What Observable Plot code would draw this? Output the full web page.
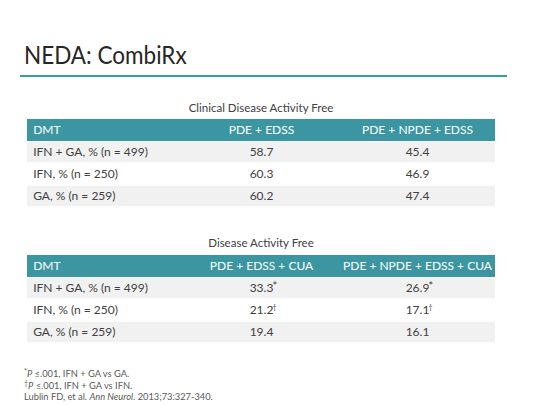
<!DOCTYPE html>
<html><head><meta charset="utf-8">
<script src="https://cdn.jsdelivr.net/npm/d3@7"></script>
<script src="https://cdn.jsdelivr.net/npm/@observablehq/plot@0.6"></script>
<style>
body{margin:0;width:540px;height:405px;overflow:hidden;background:#fff;font-family:Lato,"Open Sans",sans-serif;color:#404040;position:relative}
#title{position:absolute;left:24px;top:39px;font-size:25px;line-height:30px;color:#262626;transform:scaleX(0.9);transform-origin:left top}
#rule{position:absolute;left:20px;top:75px;width:487px;height:1.5px;background:#3a9aa6}
.tt{position:absolute;left:26px;width:470px;text-align:center;font-size:11.5px;line-height:14px;color:#404040}
.tbl{position:absolute;left:0}
#notes{position:absolute;left:24px;top:368px;font-size:9.3px;line-height:11.6px;color:#595959}
sup{font-size:7px;vertical-align:3px;line-height:0}
</style></head>
<body>
<div id="title">NEDA: CombiRx</div>
<div id="rule"></div>
<div class="tt" style="top:101px">Clinical Disease Activity Free</div>
<div class="tbl" id="t1" style="top:119px"></div>
<div class="tt" style="top:236px">Disease Activity Free</div>
<div class="tbl" id="t2" style="top:255px"></div>
<div id="notes">
<div><sup>*</sup><i>P</i> ≤.001, IFN + GA vs GA.</div>
<div><sup>†</sup><i>P</i> ≤.001, IFN + GA vs IFN.</div>
<div>Lublin FD, et al. <i>Ann Neurol</i>. 2013;73:327-340.</div>
</div>
<script>
const dmt = ["IFN + GA, % (n = 499)", "IFN, % (n = 250)", "GA, % (n = 259)"];
const clinicalCols = ["DMT", "PDE + EDSS", "PDE + NPDE + EDSS"];
const clinicalPdeEdss = [58.7, 60.3, 60.2];
const clinicalPdeNpdeEdss = [45.4, 46.9, 47.4];
const clinicalMarksA = ["", "", ""];
const clinicalMarksB = ["", "", ""];
const activityCols = ["DMT", "PDE + EDSS + CUA", "PDE + NPDE + EDSS + CUA"];
const activityPdeEdssCua = [33.3, 21.2, 19.4];
const activityPdeNpdeEdssCua = [26.9, 17.1, 16.1];
const activityMarksA = ["*", "†", ""];
const activityMarksB = ["*", "†", ""];

function table(cols, valsA, valsB, marksA, marksB) {
  const rows = ["header", ...dmt];
  const cells = [];
  rows.forEach((r, i) => cols.forEach(c => cells.push({row: r, col: c, i})));
  const header = cols.map(c => ({row: "header", col: c, label: c}));
  const body = [];
  dmt.forEach((d, i) => {
    body.push({row: d, col: cols[0], label: d, mark: ""});
    body.push({row: d, col: cols[1], label: valsA[i].toFixed(1), mark: marksA[i]});
    body.push({row: d, col: cols[2], label: valsB[i].toFixed(1), mark: marksB[i]});
  });
  const first = d => d.col === cols[0];
  const notFirst = d => d.col !== cols[0];
  const dxFirst = -470 / 3 / 2 + 6;
  return Plot.plot({
    width: 540, height: 88,
    marginTop: 0, marginBottom: 0, marginLeft: 26, marginRight: 44,
    x: {type: "band", domain: cols, padding: 0, axis: null},
    y: {type: "band", domain: rows, padding: 0, axis: null},
    style: {fontFamily: "Lato, 'Open Sans', sans-serif", background: "transparent"},
    marks: [
      Plot.cell(cells.filter(d => d.i === 0), {x: "col", y: "row", fill: "#3b96a2", inset: 0}),
      Plot.cell(cells.filter(d => d.i % 2 === 1), {x: "col", y: "row", fill: "#f1f1f1", insetLeft: 0, insetRight: 0, insetTop: 0.75, insetBottom: 0.75}),
      Plot.text(header.filter(first), {x: "col", y: "row", text: "label", textAnchor: "start", dx: dxFirst, fill: "white", fontSize: 12}),
      Plot.text(header.filter(notFirst), {x: "col", y: "row", text: "label", fill: "white", fontSize: 12}),
      Plot.text(body.filter(first), {x: "col", y: "row", text: "label", textAnchor: "start", dx: dxFirst, fill: "#404040", fontSize: 12}),
      Plot.text(body.filter(notFirst), {x: "col", y: "row", text: "label", fill: "#404040", fontSize: 12}),
      Plot.text(body.filter(d => d.mark === "*"), {x: "col", y: "row", text: "mark", textAnchor: "start", dx: 11, dy: -2, fill: "#404040", fontSize: 11}),
      Plot.text(body.filter(d => d.mark === "†"), {x: "col", y: "row", text: "mark", textAnchor: "start", dx: 11, dy: -3, fill: "#404040", fontSize: 7})
    ]
  });
}
document.getElementById("t1").appendChild(table(clinicalCols, clinicalPdeEdss, clinicalPdeNpdeEdss, clinicalMarksA, clinicalMarksB));
document.getElementById("t2").appendChild(table(activityCols, activityPdeEdssCua, activityPdeNpdeEdssCua, activityMarksA, activityMarksB));
</script>
</body></html>
